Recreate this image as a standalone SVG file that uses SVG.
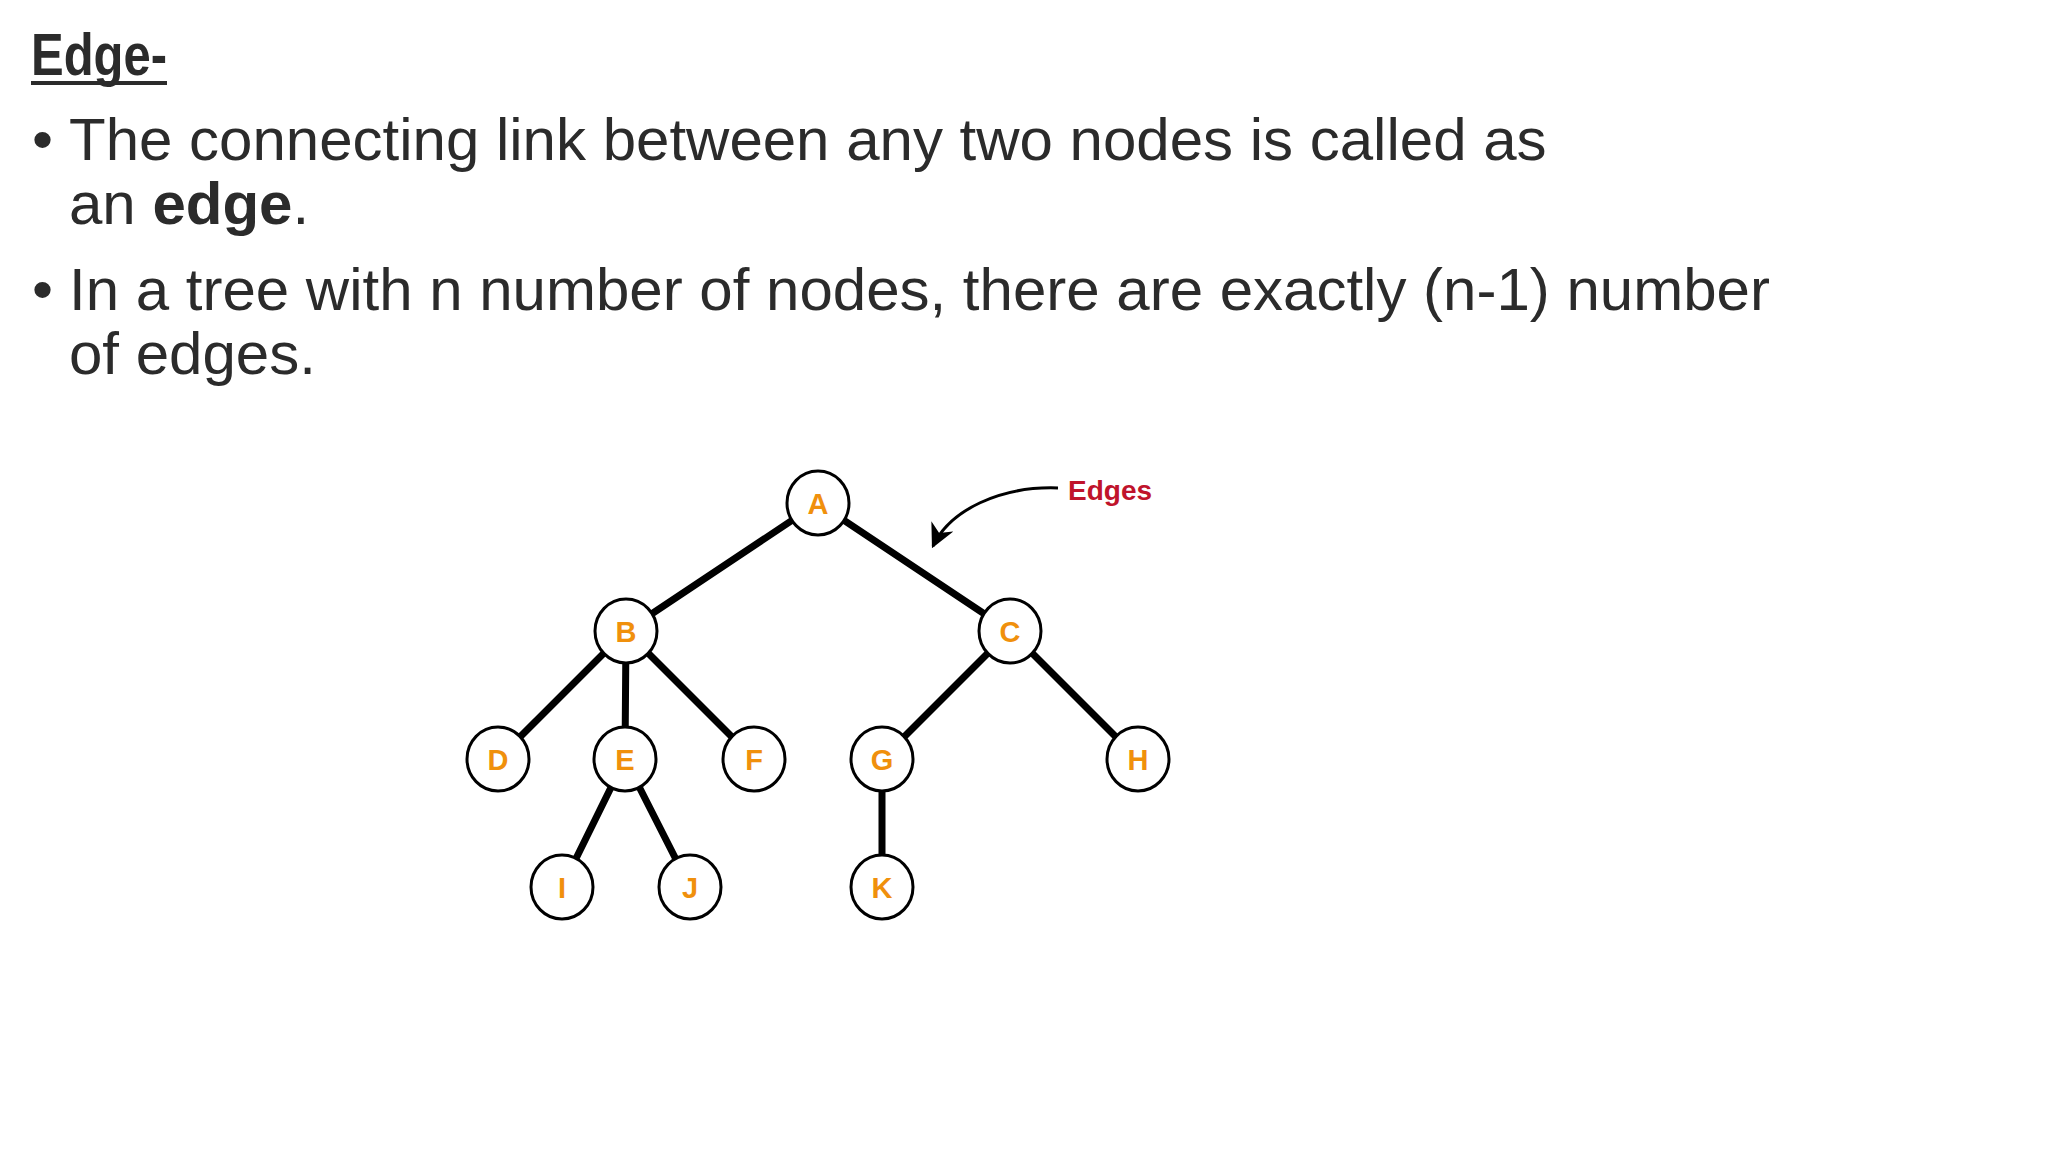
<svg xmlns="http://www.w3.org/2000/svg" width="2048" height="1152" viewBox="0 0 2048 1152">
<defs>
<style>
.txt{font-family:"Liberation Sans",Arial,sans-serif;fill:#2b2b2b;font-size:60px}
.edge{stroke:#000;stroke-width:7;stroke-linecap:round}
.node ellipse{fill:#fff;stroke:#000;stroke-width:3}
.node text{font-family:"Liberation Sans",Arial,sans-serif;font-weight:bold;font-size:29px;fill:#f0900c;text-anchor:middle}
</style>
<marker id="ah" viewBox="0 0 10 10" refX="9" refY="5" markerWidth="8" markerHeight="8" orient="auto-start-reverse" markerUnits="strokeWidth">
<path d="M0,0 L10,5 L0,10 L3,5 Z" fill="#000"/>
</marker>
</defs>
<rect width="2048" height="1152" fill="#fff"/>
<g id="title">
<text class="txt" x="31" y="75" font-weight="bold" textLength="136" lengthAdjust="spacingAndGlyphs">Edge-</text>
<rect x="31" y="81" width="136" height="4" fill="#2b2b2b"/>
</g>
<g id="bullets">
<text class="txt" x="32" y="160">•</text>
<text class="txt" x="69" y="160">The connecting link between any two nodes is called as</text>
<text class="txt" x="69" y="224">an <tspan font-weight="bold">edge</tspan>.</text>
<text class="txt" x="32" y="310">•</text>
<text class="txt" x="69" y="310">In a tree with n number of nodes, there are exactly (n-1) number</text>
<text class="txt" x="69" y="374">of edges.</text>
</g>
<g id="connectors">
<line class="edge" x1="818" y1="503" x2="626" y2="631"/>
<line class="edge" x1="818" y1="503" x2="1010" y2="631"/>
<line class="edge" x1="626" y1="631" x2="498" y2="759"/>
<line class="edge" x1="626" y1="631" x2="625" y2="759"/>
<line class="edge" x1="626" y1="631" x2="754" y2="759"/>
<line class="edge" x1="1010" y1="631" x2="882" y2="759"/>
<line class="edge" x1="1010" y1="631" x2="1138" y2="759"/>
<line class="edge" x1="625" y1="759" x2="562" y2="887"/>
<line class="edge" x1="625" y1="759" x2="690" y2="887"/>
<line class="edge" x1="882" y1="759" x2="882" y2="887"/>
<path d="M1058,488 C1000,486 950,510 933,546" fill="none" stroke="#000" stroke-width="3" marker-end="url(#ah)"/>
</g>
<g id="node-A" class="node"><ellipse cx="818" cy="503" rx="31" ry="32"/><text x="818" y="514">A</text></g>
<g id="node-B" class="node"><ellipse cx="626" cy="631" rx="31" ry="32"/><text x="626" y="642">B</text></g>
<g id="node-C" class="node"><ellipse cx="1010" cy="631" rx="31" ry="32"/><text x="1010" y="642">C</text></g>
<g id="node-D" class="node"><ellipse cx="498" cy="759" rx="31" ry="32"/><text x="498" y="770">D</text></g>
<g id="node-E" class="node"><ellipse cx="625" cy="759" rx="31" ry="32"/><text x="625" y="770">E</text></g>
<g id="node-F" class="node"><ellipse cx="754" cy="759" rx="31" ry="32"/><text x="754" y="770">F</text></g>
<g id="node-G" class="node"><ellipse cx="882" cy="759" rx="31" ry="32"/><text x="882" y="770">G</text></g>
<g id="node-H" class="node"><ellipse cx="1138" cy="759" rx="31" ry="32"/><text x="1138" y="770">H</text></g>
<g id="node-I" class="node"><ellipse cx="562" cy="887" rx="31" ry="32"/><text x="562" y="898">I</text></g>
<g id="node-J" class="node"><ellipse cx="690" cy="887" rx="31" ry="32"/><text x="690" y="898">J</text></g>
<g id="node-K" class="node"><ellipse cx="882" cy="887" rx="31" ry="32"/><text x="882" y="898">K</text></g>
<g id="label-edges"><text x="1068" y="500" font-family="Liberation Sans, Arial, sans-serif" font-weight="bold" font-size="28" fill="#c0132b">Edges</text></g>
</svg>
